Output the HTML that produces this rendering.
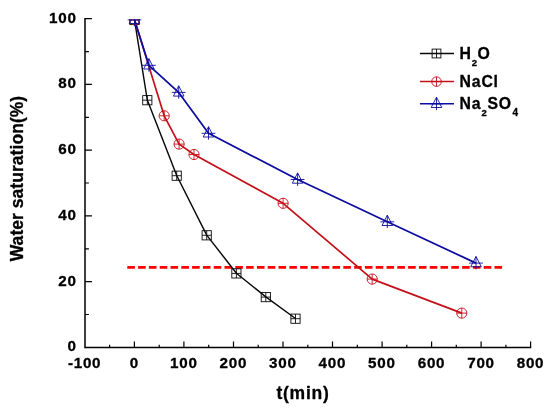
<!DOCTYPE html>
<html><head><meta charset="utf-8"><title>Water saturation</title>
<style>
html,body{margin:0;padding:0;background:#fff;}
body{width:550px;height:408px;overflow:hidden;}
svg{display:block;filter:blur(0.35px);}
text{font-family:"Liberation Sans",sans-serif;font-weight:bold;fill:#000;stroke:#000;stroke-width:0.3px;stroke-linejoin:round;}
.tk{font-size:15.2px;letter-spacing:0.75px;}
.lg{font-size:15.8px;letter-spacing:0.8px;}
.sub{font-size:9.5px;letter-spacing:0.3px;}
.ax{font-size:17.5px;}
</style></head><body>
<svg width="550" height="408" viewBox="0 0 550 408">
<rect width="550" height="408" fill="#fff"/>
<defs><clipPath id="plot"><rect x="84" y="19.3" width="450" height="330"/></clipPath></defs>
<g stroke="#000" fill="none">
<path stroke-width="1.5" d="M85.0 18.1V347.4H531.2"/>
<path stroke-width="1.2" d="M85.0 314.5h3.9M85.0 281.7h6.9M85.0 248.8h3.9M85.0 215.9h6.9M85.0 183.0h3.9M85.0 150.2h6.9M85.0 117.3h3.9M85.0 84.4h6.9M85.0 51.6h3.9M85.0 18.7h6.9M109.6 347.4v-2.7M134.4 347.4v-5.8M159.2 347.4v-2.7M183.9 347.4v-5.8M208.7 347.4v-2.7M233.5 347.4v-5.8M258.2 347.4v-2.7M283.0 347.4v-5.8M307.8 347.4v-2.7M332.5 347.4v-5.8M357.3 347.4v-2.7M382.1 347.4v-5.8M406.8 347.4v-2.7M431.6 347.4v-5.8M456.3 347.4v-2.7M481.1 347.4v-5.8M505.9 347.4v-2.7M530.6 347.4v-5.8"/>
</g>
<text class="tk" x="76.6" y="351.2" text-anchor="end">0</text>
<text class="tk" x="76.6" y="285.5" text-anchor="end">20</text>
<text class="tk" x="76.6" y="219.7" text-anchor="end">40</text>
<text class="tk" x="76.6" y="154.0" text-anchor="end">60</text>
<text class="tk" x="76.6" y="88.2" text-anchor="end">80</text>
<text class="tk" x="76.6" y="22.5" text-anchor="end">100</text>
<text class="tk" x="84.6" y="368.3" text-anchor="middle">-100</text>
<text class="tk" x="134.3" y="368.3" text-anchor="middle">0</text>
<text class="tk" x="183.8" y="368.3" text-anchor="middle">100</text>
<text class="tk" x="233.4" y="368.3" text-anchor="middle">200</text>
<text class="tk" x="282.9" y="368.3" text-anchor="middle">300</text>
<text class="tk" x="332.4" y="368.3" text-anchor="middle">400</text>
<text class="tk" x="381.9" y="368.3" text-anchor="middle">500</text>
<text class="tk" x="431.5" y="368.3" text-anchor="middle">600</text>
<text class="tk" x="481.0" y="368.3" text-anchor="middle">700</text>
<text class="tk" x="530.5" y="368.3" text-anchor="middle">800</text>
<text class="ax" transform="translate(22.5 261.3) rotate(-90)" textLength="165.5" lengthAdjust="spacing">Water saturation(%)</text>
<text class="ax" x="276.4" y="399.3" textLength="52.5" lengthAdjust="spacing">t(min)</text>
<path d="M127.3 267.3H502.8" stroke="#ff0000" stroke-width="2.8" stroke-dasharray="7.6 3.2" fill="none"/>
<g clip-path="url(#plot)">
<polyline fill="none" stroke="#0a0a0a" stroke-width="1.45" stroke-linejoin="round" points="134.5,19.8 147.3,100.0 176.7,175.5 206.7,235.1 236.4,273.2 265.8,296.9 295.5,318.5"/>
<polyline fill="none" stroke="#c41018" stroke-width="1.7" stroke-linejoin="round" points="134.5,19.8 164.2,115.8 179.1,144.1 194.0,154.5 283.1,203.3 372.2,279.1 461.8,313.1"/>
<polyline fill="none" stroke="#0c0ca0" stroke-width="1.75" stroke-linejoin="round" points="134.5,19.8 148.9,65.3 178.7,92.4 208.5,133.3 297.6,179.5 387.3,221.8 476.0,263.1"/>
<g stroke="#0a0a0a" stroke-width="0.9" fill="none"><rect x="129.9" y="15.4" width="9.2" height="9.2"/><path d="M129.9 20.0H139.1M134.5 15.4V24.6"/></g>
<g stroke="#0a0a0a" stroke-width="0.9" fill="none"><rect x="142.7" y="95.6" width="9.2" height="9.2"/><path d="M142.7 100.2H151.9M147.3 95.6V104.8"/></g>
<g stroke="#0a0a0a" stroke-width="0.9" fill="none"><rect x="172.1" y="171.1" width="9.2" height="9.2"/><path d="M172.1 175.7H181.3M176.7 171.1V180.3"/></g>
<g stroke="#0a0a0a" stroke-width="0.9" fill="none"><rect x="202.1" y="230.7" width="9.2" height="9.2"/><path d="M202.1 235.3H211.3M206.7 230.7V239.9"/></g>
<g stroke="#0a0a0a" stroke-width="0.9" fill="none"><rect x="231.8" y="268.8" width="9.2" height="9.2"/><path d="M231.8 273.4H241.0M236.4 268.8V278.0"/></g>
<g stroke="#0a0a0a" stroke-width="0.9" fill="none"><rect x="261.2" y="292.5" width="9.2" height="9.2"/><path d="M261.2 297.1H270.4M265.8 292.5V301.7"/></g>
<g stroke="#0a0a0a" stroke-width="0.9" fill="none"><rect x="290.9" y="314.1" width="9.2" height="9.2"/><path d="M290.9 318.7H300.1M295.5 314.1V323.3"/></g>
<g stroke="#c41018" stroke-width="0.9" fill="none"><circle cx="134.5" cy="19.8" r="5.1"/><path d="M129.4 19.8H139.6M134.5 14.7V24.9"/></g>
<g stroke="#c41018" stroke-width="0.9" fill="none"><circle cx="164.2" cy="115.8" r="5.1"/><path d="M159.1 115.8H169.3M164.2 110.7V120.9"/></g>
<g stroke="#c41018" stroke-width="0.9" fill="none"><circle cx="179.1" cy="144.1" r="5.1"/><path d="M174.0 144.1H184.2M179.1 139.0V149.2"/></g>
<g stroke="#c41018" stroke-width="0.9" fill="none"><circle cx="194.0" cy="154.5" r="5.1"/><path d="M188.9 154.5H199.1M194.0 149.4V159.6"/></g>
<g stroke="#c41018" stroke-width="0.9" fill="none"><circle cx="283.1" cy="203.3" r="5.1"/><path d="M278.0 203.3H288.2M283.1 198.2V208.4"/></g>
<g stroke="#c41018" stroke-width="0.9" fill="none"><circle cx="372.2" cy="279.1" r="5.1"/><path d="M367.1 279.1H377.3M372.2 274.0V284.2"/></g>
<g stroke="#c41018" stroke-width="0.9" fill="none"><circle cx="461.8" cy="313.1" r="5.1"/><path d="M456.7 313.1H466.9M461.8 308.0V318.2"/></g>
<g stroke="#0c0ca0" stroke-width="0.9" fill="none"><path d="M134.5 13.2L139.8 23.5L129.2 23.5Z"/><path d="M127.6 19.8H141.4M134.5 13.2V26.1"/></g>
<g stroke="#0c0ca0" stroke-width="0.9" fill="none"><path d="M148.9 58.7L154.2 69.0L143.6 69.0Z"/><path d="M142.0 65.3H155.8M148.9 58.7V71.6"/></g>
<g stroke="#0c0ca0" stroke-width="0.9" fill="none"><path d="M178.7 85.8L184.0 96.1L173.4 96.1Z"/><path d="M171.8 92.4H185.6M178.7 85.8V98.7"/></g>
<g stroke="#0c0ca0" stroke-width="0.9" fill="none"><path d="M208.5 126.7L213.8 137.0L203.2 137.0Z"/><path d="M201.6 133.3H215.4M208.5 126.7V139.6"/></g>
<g stroke="#0c0ca0" stroke-width="0.9" fill="none"><path d="M297.6 172.9L302.9 183.2L292.3 183.2Z"/><path d="M290.7 179.5H304.5M297.6 172.9V185.8"/></g>
<g stroke="#0c0ca0" stroke-width="0.9" fill="none"><path d="M387.3 215.2L392.6 225.5L382.0 225.5Z"/><path d="M380.4 221.8H394.2M387.3 215.2V228.1"/></g>
<g stroke="#0c0ca0" stroke-width="0.9" fill="none"><path d="M476.0 256.5L481.3 266.8L470.7 266.8Z"/><path d="M469.1 263.1H482.9M476.0 256.5V269.4"/></g>
</g>
<path d="M419.9 53.5H454.0" stroke="#0a0a0a" stroke-width="1.3"/>
<g stroke="#0a0a0a" stroke-width="0.9" fill="none"><rect x="432.1" y="49.1" width="8.8" height="8.8"/><path d="M432.1 53.5H440.9M436.5 49.1V57.9"/></g>
<path d="M419.9 81.6H454.0" stroke="#c41018" stroke-width="1.5"/>
<g stroke="#c41018" stroke-width="0.9" fill="none"><circle cx="436.5" cy="81.6" r="4.8"/><path d="M431.7 81.6H441.3M436.5 76.8V86.4"/></g>
<path d="M419.9 103.8H454.0" stroke="#0c0ca0" stroke-width="1.5"/>
<g stroke="#0c0ca0" stroke-width="0.9" fill="none"><path d="M436.5 97.2L441.8 107.5L431.2 107.5Z"/><path d="M429.6 103.8H443.4M436.5 97.2V110.1"/></g>
<text class="lg" x="459.6" y="58.7">H<tspan class="sub" dy="7.6">2</tspan><tspan dy="-7.6">O</tspan></text>
<text class="lg" x="459.6" y="87">NaCl</text>
<text class="lg" x="459.6" y="108.8">Na<tspan class="sub" dy="6.7">2</tspan><tspan dy="-6.7" dx="0.5">SO</tspan><tspan class="sub" dy="6.7" dx="0.5" style="font-size:10px">4</tspan></text>
</svg></body></html>
